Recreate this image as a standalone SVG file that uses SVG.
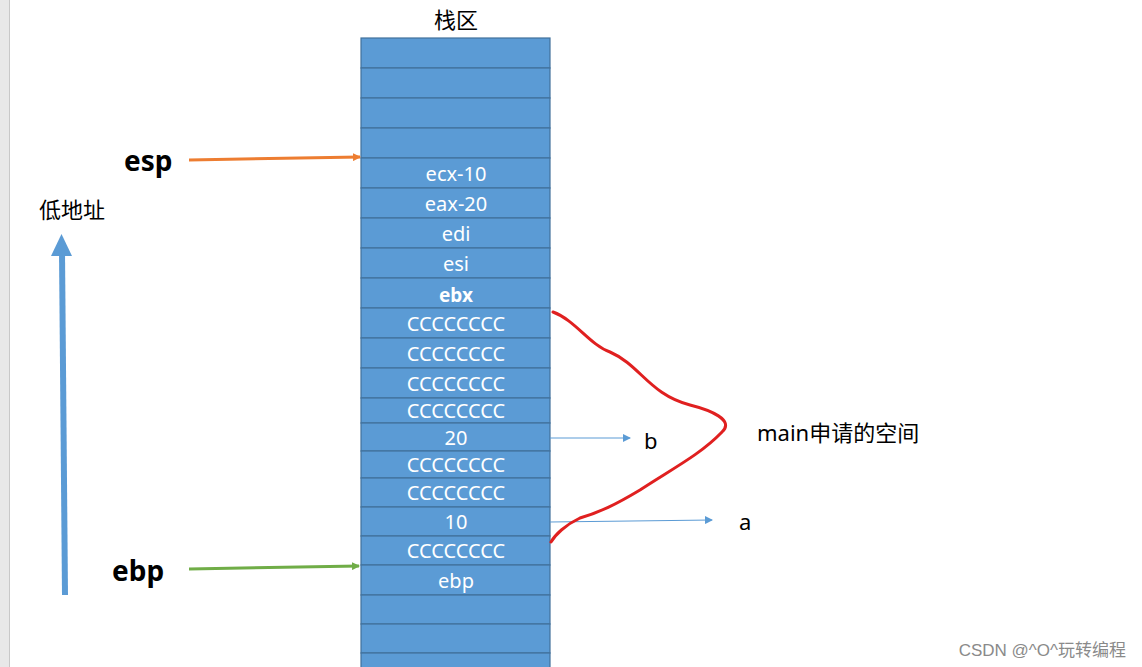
<svg xmlns="http://www.w3.org/2000/svg" width="1142" height="667" viewBox="0 0 1142 667">
<style>
.c{fill:#5b9bd5;stroke:#41719c;stroke-width:1.2}
.t{font-family:"Noto Sans","Noto Sans CJK SC",sans-serif;font-size:20px;fill:#fff;text-anchor:middle}
.k{font-family:"Noto Sans","Noto Sans CJK SC",sans-serif;font-size:22px;fill:#000}
.b{font-family:"Noto Sans",sans-serif;font-size:28px;font-weight:bold;fill:#000}
</style>
<defs>
<marker id="mo" markerWidth="8" markerHeight="8" refX="7" refY="4" orient="auto" markerUnits="userSpaceOnUse" viewBox="0 0 8 8"><path d="M0,0L8,4L0,8z" fill="#ed7d31"/></marker>
<marker id="mg" markerWidth="8" markerHeight="8" refX="7" refY="4" orient="auto" markerUnits="userSpaceOnUse" viewBox="0 0 8 8"><path d="M0,0L8,4L0,8z" fill="#70ad47"/></marker>
<marker id="mb" markerWidth="8" markerHeight="8" refX="7" refY="4" orient="auto" markerUnits="userSpaceOnUse" viewBox="0 0 8 8"><path d="M0,0L8,4L0,8z" fill="#5b9bd5"/></marker>
</defs>
<rect width="1142" height="667" fill="#fff"/>
<rect width="9" height="667" fill="#e8e8e8"/>
<line x1="9.5" y1="0" x2="9.5" y2="667" stroke="#c8c8c8"/>
<g id="stack">
<rect class="c" x="361" y="38" width="189" height="30"/>
<rect class="c" x="361" y="68" width="189" height="30"/>
<rect class="c" x="361" y="98" width="189" height="30"/>
<rect class="c" x="361" y="128" width="189" height="30"/>
<rect class="c" x="361" y="158" width="189" height="30"/>
<rect class="c" x="361" y="188" width="189" height="30"/>
<rect class="c" x="361" y="218" width="189" height="30"/>
<rect class="c" x="361" y="248" width="189" height="30"/>
<rect class="c" x="361" y="278" width="189" height="30"/>
<rect class="c" x="361" y="308" width="189" height="30"/>
<rect class="c" x="361" y="338" width="189" height="30"/>
<rect class="c" x="361" y="368" width="189" height="30"/>
<rect class="c" x="361" y="398" width="189" height="25"/>
<rect class="c" x="361" y="423" width="189" height="28"/>
<rect class="c" x="361" y="451" width="189" height="27"/>
<rect class="c" x="361" y="478" width="189" height="29"/>
<rect class="c" x="361" y="507" width="189" height="29"/>
<rect class="c" x="361" y="536" width="189" height="29"/>
<rect class="c" x="361" y="565" width="189" height="30"/>
<rect class="c" x="361" y="595" width="189" height="29"/>
<rect class="c" x="361" y="624" width="189" height="29"/>
<rect class="c" x="361" y="653" width="189" height="20"/>
<text class="t" x="456" y="181">ecx-10</text>
<text class="t" x="456" y="211">eax-20</text>
<text class="t" x="456" y="241">edi</text>
<text class="t" x="456" y="271">esi</text>
<text class="t" x="456" y="302" style="font-weight:bold;font-size:19px">ebx</text>
<text class="t" x="456" y="331">CCCCCCCC</text>
<text class="t" x="456" y="361">CCCCCCCC</text>
<text class="t" x="456" y="391">CCCCCCCC</text>
<text class="t" x="456" y="418">CCCCCCCC</text>
<text class="t" x="456" y="445">20</text>
<text class="t" x="456" y="472">CCCCCCCC</text>
<text class="t" x="456" y="500">CCCCCCCC</text>
<text class="t" x="456" y="529">10</text>
<text class="t" x="456" y="558">CCCCCCCC</text>
<text class="t" x="456" y="588">ebp</text>
</g>
<text class="k" x="456" y="28" text-anchor="middle">栈区</text>
<g id="labels">
<text class="b" x="124" y="171">esp</text>
<text class="b" x="112" y="581">ebp</text>
<text class="k" x="39" y="218">低地址</text>
<text class="k" x="644" y="449">b</text>
<text class="k" x="739" y="530">a</text>
<text class="k" x="757" y="441">main申请的空间</text>
<text x="1126" y="656" text-anchor="end" style="font-family:'Liberation Sans','Noto Sans CJK SC',sans-serif;font-size:17px;fill:#8a8a8a">CSDN @^O^玩转编程</text>
</g>
<g id="connectors">
<line x1="189" y1="160" x2="360" y2="157" stroke="#ed7d31" stroke-width="3" marker-end="url(#mo)"/>
<line x1="189" y1="569" x2="359" y2="566" stroke="#70ad47" stroke-width="3" marker-end="url(#mg)"/>
<line x1="65" y1="595" x2="62" y2="252" stroke="#5b9bd5" stroke-width="6"/>
<path d="M51,256L61.5,234L72,256z" fill="#5b9bd5"/>
<line x1="550" y1="438" x2="630" y2="438" stroke="#5b9bd5" stroke-width="1" marker-end="url(#mb)"/>
<line x1="550" y1="522" x2="712" y2="520" stroke="#5b9bd5" stroke-width="1" marker-end="url(#mb)"/>
<path d="M553,312C575,320 590,345 610,352C640,365 650,395 690,405C710,410 735,420 722,432C700,455 670,470 640,490C615,505 600,512 580,518C565,525 555,535 551,542" fill="none" stroke="#e02020" stroke-width="3" stroke-linecap="round"/>
</g>
</svg>
